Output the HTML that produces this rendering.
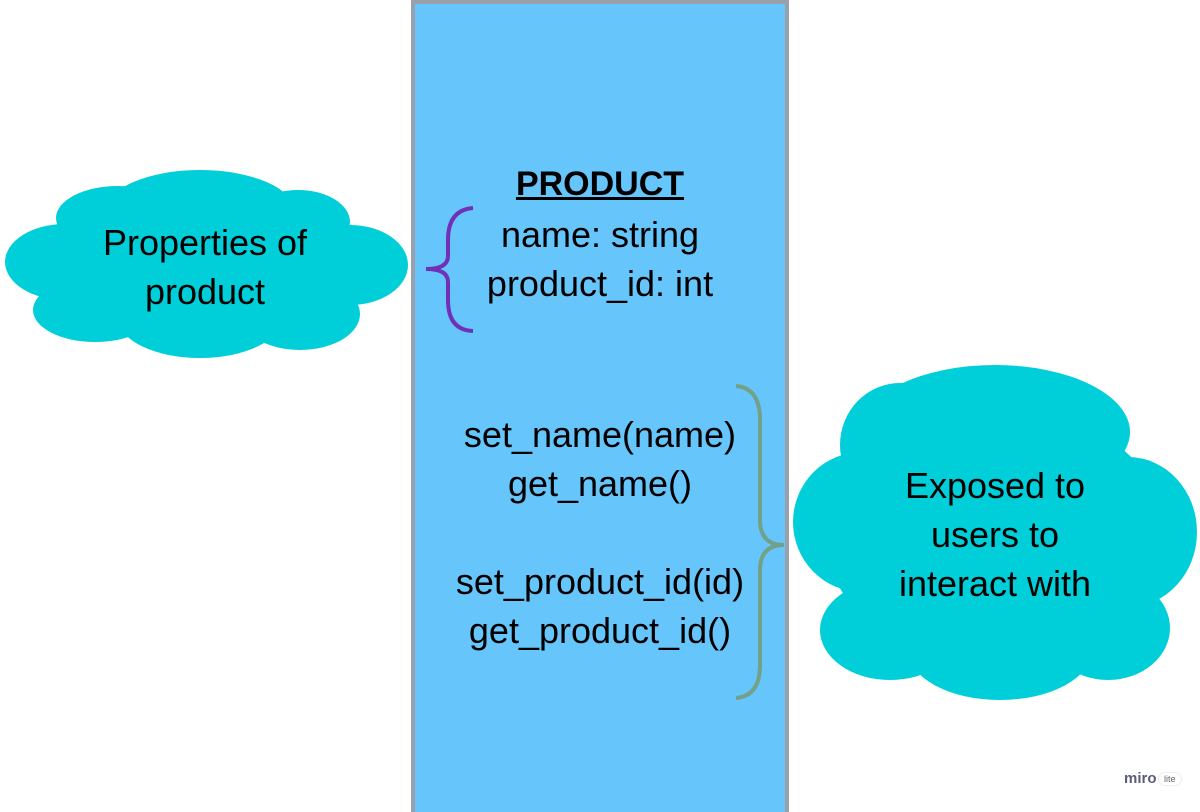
<!DOCTYPE html>
<html><head><style>
body{margin:0;width:1200px;height:812px;background:#fff;overflow:hidden;position:relative;font-family:"Liberation Sans",sans-serif;}
.t{position:absolute;font-size:36px;color:#000;text-align:center;white-space:nowrap;line-height:49px;}
</style></head><body>
<svg width="1200" height="812" style="position:absolute;left:0;top:0">
<rect x="413" y="2" width="374" height="812" fill="#66C5FB" stroke="#9aa0aa" stroke-width="4"/>
<g fill="#00CED9">
<ellipse cx="205" cy="262" rx="170" ry="70"/>
<ellipse cx="200" cy="212" rx="95" ry="42"/>
<ellipse cx="118" cy="218" rx="62" ry="32"/>
<ellipse cx="298" cy="222" rx="52" ry="32"/>
<ellipse cx="65" cy="262" rx="60" ry="38"/>
<ellipse cx="350" cy="265" rx="58" ry="40"/>
<ellipse cx="95" cy="310" rx="62" ry="32"/>
<ellipse cx="200" cy="318" rx="82" ry="40"/>
<ellipse cx="300" cy="314" rx="60" ry="36"/>
<ellipse cx="995" cy="535" rx="170" ry="130"/>
<ellipse cx="995" cy="432" rx="135" ry="67"/>
<ellipse cx="900" cy="445" rx="60" ry="62"/>
<ellipse cx="862" cy="522" rx="69" ry="70"/>
<ellipse cx="1128" cy="532" rx="69" ry="75"/>
<ellipse cx="890" cy="630" rx="70" ry="50"/>
<ellipse cx="1000" cy="650" rx="92" ry="50"/>
<ellipse cx="1108" cy="628" rx="62" ry="52"/>
</g>
<path d="M473 208 Q448 210 448 240 L448 256 Q448 269 426 269 Q448 269 448 282 L448 300 Q448 330 473 331" fill="none" stroke="#7030B8" stroke-width="4"/>
<path d="M736 386 Q760 388 760 420 L760 520 Q760 545 784 545 Q760 545 760 570 L760 665 Q760 696 736 698" fill="none" stroke="#72A088" stroke-width="4"/>
</svg>
<div class="t" style="left:413px;width:374px;top:160px;font-weight:bold;font-size:34px;"><span style="text-decoration:underline">PRODUCT</span></div>
<div class="t" style="left:413px;width:374px;top:210px;">name: string<br>product_id: int</div>
<div class="t" style="left:413px;width:374px;top:410px;">set_name(name)<br>get_name()<br><br>set_product_id(id)<br>get_product_id()</div>
<div class="t" style="left:5px;width:400px;top:218px;">Properties of<br>product</div>
<div class="t" style="left:795px;width:400px;top:461px;">Exposed to<br>users to<br>interact with</div>
<div style="position:absolute;left:1124px;top:770px;font-size:15px;font-weight:bold;color:#5b5b7a;">miro</div>
<div style="position:absolute;left:1158px;top:772px;font-size:9px;color:#666;border:1px solid #eee;border-radius:8px;padding:1px 5px;">lite</div>
</body></html>
